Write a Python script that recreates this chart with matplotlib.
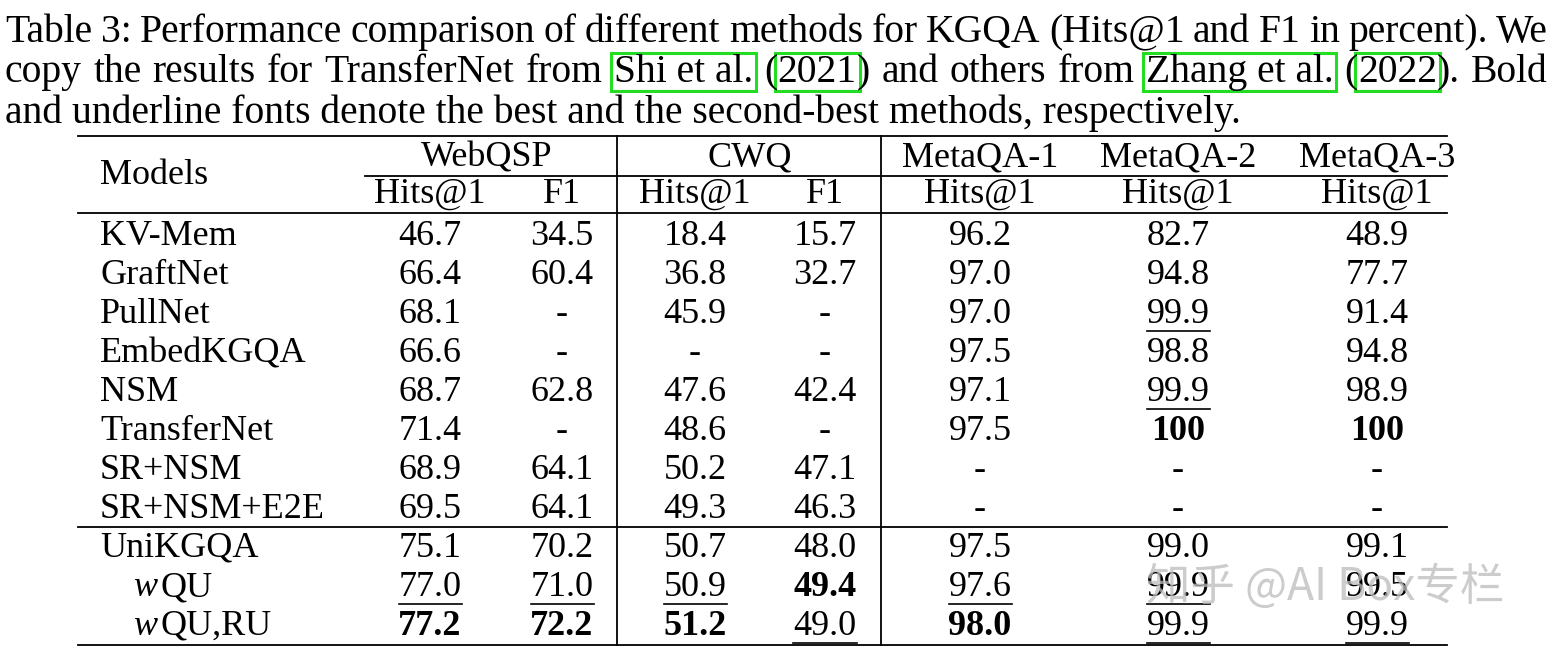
import matplotlib
matplotlib.use("Agg")
import matplotlib.pyplot as plt
from matplotlib.patches import Rectangle

W, H = 1554, 652
SERIF = "Liberation Serif"

caption = [
    [[("Table", 0)], [("3:", 0)], [("Performance", 0)], [("comparison", 0)], [("of", 0)], [("different", 0)],
     [("methods", 0)], [("for", 0)], [("KGQA", 0)], [("(Hits@1", 0)], [("and", 0)], [("F1", 0)], [("in", 0)],
     [("percent).", 0)], [("We", 0)]],
    [[("copy", 0)], [("the", 0)], [("results", 0)], [("for", 0)], [("TransferNet", 0)], [("from", 0)],
     [("Shi et al.", 1)], [("(", 0), ("2021", 1), (")", 0)], [("and", 0)], [("others", 0)], [("from", 0)],
     [("Zhang et al.", 1)], [("(", 0), ("2022", 1), (").", 0)], [("Bold", 0)]],
    [[("and underline fonts denote the best and the second-best methods, respectively.", 0)]],
]
caption_justify = [True, True, False]

groups = ["WebQSP", "CWQ", "MetaQA-1", "MetaQA-2", "MetaQA-3"]
subheads = ["Hits@1", "F1", "Hits@1", "F1", "Hits@1", "Hits@1", "Hits@1"]
models = ["KV-Mem", "GraftNet", "PullNet", "EmbedKGQA", "NSM", "TransferNet", "SR+NSM", "SR+NSM+E2E",
          "UniKGQA", "w QU", "w QU,RU"]
values = [
    ["46.7", "34.5", "18.4", "15.7", "96.2", "82.7", "48.9"],
    ["66.4", "60.4", "36.8", "32.7", "97.0", "94.8", "77.7"],
    ["68.1", "-", "45.9", "-", "97.0", "99.9", "91.4"],
    ["66.6", "-", "-", "-", "97.5", "98.8", "94.8"],
    ["68.7", "62.8", "47.6", "42.4", "97.1", "99.9", "98.9"],
    ["71.4", "-", "48.6", "-", "97.5", "100", "100"],
    ["68.9", "64.1", "50.2", "47.1", "-", "-", "-"],
    ["69.5", "64.1", "49.3", "46.3", "-", "-", "-"],
    ["75.1", "70.2", "50.7", "48.0", "97.5", "99.0", "99.1"],
    ["77.0", "71.0", "50.9", "49.4", "97.6", "99.9", "99.5"],
    ["77.2", "72.2", "51.2", "49.0", "98.0", "99.9", "99.9"],
]
bold_cells = [(5, 5), (5, 6), (9, 3), (10, 0), (10, 1), (10, 2), (10, 4)]
underline_cells = [(2, 5), (4, 5), (9, 0), (9, 1), (9, 2), (9, 4), (9, 5), (10, 3), (10, 5), (10, 6)]

fig = plt.figure(figsize=(W / 100, H / 100), dpi=100)
fig.patch.set_facecolor("white")
renderer = fig.canvas.get_renderer()


def fx(x):
    return x / W


def fy(y):
    return 1 - y / H


def put(x, y, s, size=26, ha="center", **kw):
    return fig.text(fx(x), fy(y), s, fontsize=size, family=SERIF, ha=ha, va="baseline", **kw)


def hline(x0, x1, y, lw=1.3):
    fig.add_artist(plt.Line2D([fx(x0), fx(x1)], [fy(y), fy(y)], color="black", lw=lw))


def vline(x, y0, y1, lw=1.3):
    fig.add_artist(plt.Line2D([fx(x), fx(x)], [fy(y0), fy(y1)], color="black", lw=lw))


# caption, justified by hand
CAP = 28.5
left, right = 5, 1548
baselines = [42, 82, 123]
for line, just, base in zip(caption, caption_justify, baselines):
    widths = []
    for word in line:
        ws = []
        for seg, _ in word:
            t = put(0, base, seg, size=CAP, ha="left")
            ws.append(t.get_window_extent(renderer).width)
            t.remove()
        widths.append(ws)
    total = sum(sum(w) for w in widths)
    if just and len(line) > 1:
        gap = (right - left - total) / (len(line) - 1)
    else:
        gap = 9
    x = left
    for word, ws in zip(line, widths):
        for (seg, boxed), w in zip(word, ws):
            put(x, base, seg, size=CAP, ha="left")
            if boxed:
                fig.add_artist(Rectangle((fx(x - 3), fy(base + 9)), (w + 6) / W, 38 / H,
                                         fill=False, edgecolor="#22dd22", lw=2.2))
            x += w
        x += gap

# rules
hline(78, 1447, 136)
hline(365, 1447, 176)
hline(78, 1447, 213)
hline(78, 1447, 527)
hline(78, 1447, 645)
vline(617, 136, 645)
vline(881, 136, 645)

# header
col_x = [430, 562, 695, 825, 980, 1178, 1377]
group_x = [487, 750, 980, 1178, 1377]
put(100, 184, "Models", ha="left")
for g, gx in zip(groups, group_x):
    put(gx, 166, g)
for s, cx in zip(subheads, col_x):
    put(cx, 203, s)

# body
row_base = [245, 284, 323, 362, 401, 440, 479, 518, 557, 596, 635]
for i, (m, base) in enumerate(zip(models, row_base)):
    if m.startswith("w "):
        put(133, base, "w", ha="left", style="italic")
        put(160, base, m[2:], ha="left")
    else:
        put(100, base, m, ha="left")
    for j, v in enumerate(values[i]):
        t = put(col_x[j], base, v, weight="bold" if (i, j) in bold_cells else "normal")
        if (i, j) in underline_cells:
            bb = t.get_window_extent(renderer)
            hline(bb.x0, bb.x1, base + 8, lw=1.2)

# watermark
fig.text(fx(1146), fy(600), "知乎 @AI Box专栏", fontsize=32, color="#bbbbbb", alpha=0.75,
         family=["Noto Sans CJK SC", "DejaVu Sans"], ha="left", va="baseline")

fig.savefig("out.png", dpi=100, facecolor="white")
